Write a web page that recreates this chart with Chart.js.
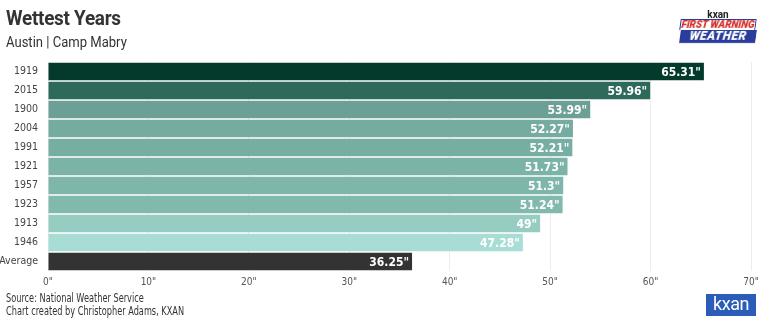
<!DOCTYPE html>
<html lang="en">
<head>
    <meta charset="UTF-8">
    <title>Wettest Years</title>
    <script src="https://cdn.jsdelivr.net/npm/chart.js"></script>
    <style>
        body {
            margin: 0;
            width: 768px;
            height: 325px;
            overflow: hidden;
            background: #fff;
            font-family: 'DejaVu Sans Condensed', 'Roboto', sans-serif;
            color: #333;
            position: relative;
        }
        #chartBox {
            position: absolute;
            left: 0;
            top: 0;
            width: 768px;
            height: 325px;
        }
        .title {
            position: absolute;
            left: 6px;
            top: 6px;
            font-family: 'Roboto', sans-serif;
            font-weight: 700;
            font-size: 21px;
            letter-spacing: -0.3px;
            color: #333;
            transform: scaleX(0.9);
            transform-origin: left;
        }
        .subtitle {
            position: absolute;
            left: 6px;
            top: 33px;
            font-family: 'Roboto', sans-serif;
            font-size: 15px;
            color: #333;
            transform: scaleX(0.87);
            transform-origin: left;
        }
        .footer {
            position: absolute;
            left: 6px;
            top: 292px;
            font-size: 12px;
            line-height: 13px;
            color: #333;
            white-space: nowrap;
            transform: scaleX(0.76);
            transform-origin: left;
        }
        .logo-top {
            position: absolute;
            left: 680px;
            top: 10px;
            width: 76px;
            text-align: center;
            font-family: 'Roboto', sans-serif;
        }
        .logo-top .k {
            font-size: 10px;
            font-weight: 700;
            line-height: 9px;
            color: #222;
        }
        .logo-top .fw {
            font-size: 10px;
            font-weight: 900;
            font-style: italic;
            color: #d62b2b;
            line-height: 10px;
            border: 1px solid #2a3d9c;
            border-bottom: none;
            transform: skewX(-8deg);
            background: #fff;
        }
        .logo-top .wx {
            font-size: 12px;
            font-weight: 900;
            font-style: italic;
            color: #fff;
            background: #2a3d9c;
            line-height: 13px;
            letter-spacing: 0.5px;
            transform: skewX(-8deg);
        }
        .logo-bot {
            position: absolute;
            left: 706px;
            top: 294px;
            width: 50px;
            height: 22px;
            background: #2a5cb8;
            color: #fff;
            font-family: 'Roboto', sans-serif;
            font-size: 18px;
            line-height: 20px;
            text-align: center;
            letter-spacing: -0.5px;
        }
    </style>
</head>
<body>
    <div id="chartBox"><canvas id="wetChart"></canvas></div>
    <div class="title">Wettest Years</div>
    <div class="subtitle">Austin | Camp Mabry</div>
    <div class="footer">Source: National Weather Service<br>Chart created by Christopher Adams, KXAN</div>
    <div class="logo-top">
        <div class="k">kxan</div>
        <div class="fw">FIRST WARNING</div>
        <div class="wx">WEATHER</div>
    </div>
    <div class="logo-bot">kxan</div>

    <script>
        const years = ['1919', '2015', '1900', '2004', '1991', '1921', '1957', '1923', '1913', '1946', 'Average'];
        const rainfall = [65.31, 59.96, 53.99, 52.27, 52.21, 51.73, 51.3, 51.24, 49, 47.28, 36.25];
        const barColors = ['#043a2c', '#2e6a5b', '#6c9f96', '#75aba1', '#77aea4', '#7bb3a9', '#7fb6ab',
                           '#82b9ae', '#97ccc3', '#a8ddd5', '#333333'];
        const xTicks = [0, 10, 20, 30, 40, 50, 60, 70];

        const condensed = "'DejaVu Sans Condensed', 'Roboto', sans-serif";

        // white value labels at the inner end of each bar
        const valueLabels = {
            id: 'valueLabels',
            afterDatasetsDraw(chart) {
                const ctx = chart.ctx;
                const meta = chart.getDatasetMeta(0);
                ctx.save();
                ctx.fillStyle = '#fff';
                ctx.font = 'bold 12px ' + condensed;
                ctx.textAlign = 'right';
                ctx.textBaseline = 'middle';
                meta.data.forEach((bar, i) => {
                    ctx.fillText(rainfall[i] + '"', bar.x - 3, bar.y + 1);
                });
                ctx.restore();
            }
        };

        new Chart(document.getElementById('wetChart'), {
            type: 'bar',
            data: {
                labels: years,
                datasets: [{
                    data: rainfall,
                    backgroundColor: barColors,
                    barPercentage: 0.93,
                    categoryPercentage: 1
                }]
            },
            options: {
                indexAxis: 'y',
                responsive: true,
                maintainAspectRatio: false,
                animation: false,
                layout: {
                    padding: { top: 62, bottom: 32, left: 0, right: 17 }
                },
                plugins: {
                    legend: { display: false },
                    tooltip: { enabled: false }
                },
                scales: {
                    x: {
                        min: 0,
                        max: 70,
                        afterBuildTicks: axis => { axis.ticks = xTicks.map(v => ({ value: v })); },
                        grid: { color: '#ececec', drawTicks: false },
                        border: { display: false },
                        ticks: {
                            padding: 5,
                            color: '#555',
                            font: { family: condensed, size: 10 },
                            callback: v => v + '"'
                        }
                    },
                    y: {
                        afterFit: axis => { axis.width = 48; },
                        grid: { display: false },
                        border: { display: false },
                        ticks: {
                            color: '#444',
                            padding: 2,
                            font: { family: condensed, size: 10.5 }
                        }
                    }
                }
            },
            plugins: [valueLabels]
        });
    </script>
</body>
</html>
